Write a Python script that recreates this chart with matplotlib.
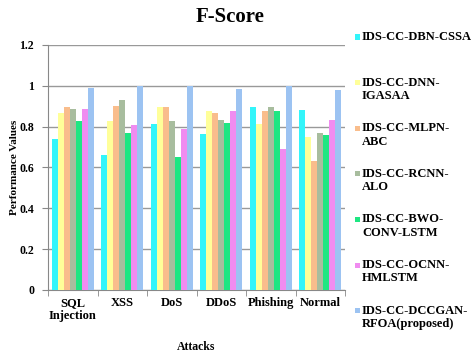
import matplotlib.pyplot as plt
from matplotlib.patches import Rectangle
import numpy as np

attacks = ['SQL\nInjection', 'XSS', 'DoS', 'DDoS', 'Phishing', 'Normal']
models = ['IDS-CC-DBN-CSSA', 'IDS-CC-DNN-\nIGASAA', 'IDS-CC-MLPN-\nABC',
          'IDS-CC-RCNN-\nALO', 'IDS-CC-BWO-\nCONV-LSTM', 'IDS-CC-OCNN-\nHMLSTM',
          'IDS-CC-DCCGAN-\nRFOA(proposed)']
colors = ['#33F5FA', '#FFFF99', '#F9BD8C', '#A8BD9E', '#1EE682', '#F08CF0', '#9CC3F2']

dbn_cssa = [0.74, 0.663, 0.811, 0.764, 0.894, 0.881]
dnn_igasaa = [0.867, 0.829, 0.897, 0.875, 0.813, 0.748]
mlpn_abc = [0.897, 0.90, 0.897, 0.868, 0.876, 0.634]
rcnn_alo = [0.888, 0.93, 0.83, 0.833, 0.897, 0.77]
bwo_convlstm = [0.829, 0.769, 0.65, 0.82, 0.878, 0.758]
ocnn_hmlstm = [0.888, 0.81, 0.789, 0.878, 0.69, 0.833]
dccgan_rfoa = [0.99, 1.0, 1.0, 0.985, 1.0, 0.98]
series = [dbn_cssa, dnn_igasaa, mlpn_abc, rcnn_alo, bwo_convlstm, ocnn_hmlstm, dccgan_rfoa]

plt.rcParams['font.family'] = ['Liberation Serif', 'DejaVu Serif']
plt.rcParams['font.weight'] = 'bold'

W, H = 474, 363
fig = plt.figure(figsize=(W / 100, H / 100), dpi=100)
ax = fig.add_axes([48 / W, 1 - 290 / H, 297 / W, 245 / H])

x = np.arange(len(attacks))
w = 0.85 / len(series)
for i, (vals, c, name) in enumerate(zip(series, colors, models)):
    ax.bar(x - 0.425 + w * (i + 0.5), vals, width=w, color=c, label=name, zorder=3)

ax.set_xlim(-0.5, len(attacks) - 0.5)
ax.set_ylim(0, 1.2)
ax.set_yticks([0, 0.2, 0.4, 0.6, 0.8, 1.0, 1.2])
ax.set_yticklabels(['0', '0.2', '0.4', '0.6', '0.8', '1', '1.2'], fontsize=8.5, fontweight='bold')
ax.set_xticks(x)
ax.set_xticklabels(attacks, fontsize=9, fontweight='bold', linespacing=1.1)
ax.set_xticks(np.arange(-0.5, len(attacks)), minor=True)
ax.tick_params(axis='x', which='major', length=0, pad=5)
ax.tick_params(axis='x', which='minor', length=4, color='#888888')
ax.tick_params(axis='y', length=4, color='#888888', pad=6)
ax.grid(axis='y', color='#999999', linewidth=1, zorder=0)
for s in ['top', 'right']:
    ax.spines[s].set_visible(False)
for s in ['left', 'bottom']:
    ax.spines[s].set_color('#888888')

ax.set_xlabel('Attacks', fontsize=8.5, fontweight='bold', labelpad=14)
ax.set_ylabel('Performance Values', fontsize=8, fontweight='bold')
ax.yaxis.set_label_coords(-29 / 297, 0.5)
fig.text(230 / W, 1 - 17 / H, 'F-Score', fontsize=15, fontweight='bold', ha='center', va='center')

# legend drawn by hand to match the wide, even spacing of the original
for i, (name, c) in enumerate(zip(models, colors)):
    yc = 37 + 45.6 * i
    fig.add_artist(Rectangle((355 / W, 1 - (yc + 2.5) / H), 5 / W, 5 / H,
                             transform=fig.transFigure, color=c, lw=0))
    fig.text(362 / W, 1 - (yc - 6) / H, name, fontsize=9, fontweight='bold',
             ha='left', va='top', linespacing=1.15)

fig.savefig('out.png', dpi=100)
